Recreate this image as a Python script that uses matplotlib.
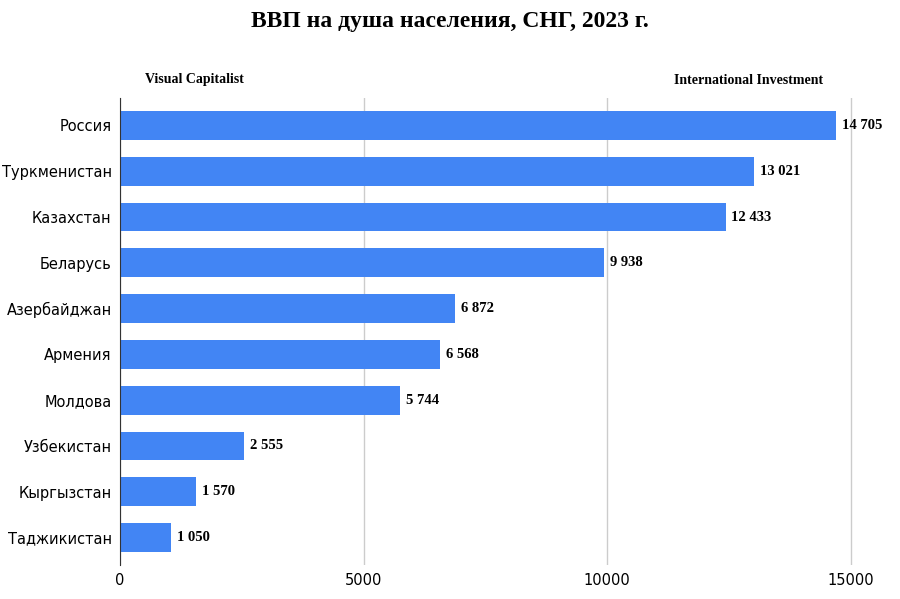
import matplotlib
matplotlib.use("Agg")
import matplotlib.pyplot as plt

countries = ["Россия", "Туркменистан", "Казахстан", "Беларусь", "Азербайджан",
             "Армения", "Молдова", "Узбекистан", "Кыргызстан", "Таджикистан"]
values = [14705, 13021, 12433, 9938, 6872, 6568, 5744, 2555, 1570, 1050]
labels = ["14 705", "13 021", "12 433", "9 938", "6 872", "6 568", "5 744", "2 555", "1 570", "1 050"]

fig = plt.figure(figsize=(9, 5.99), dpi=100)
ax = fig.add_axes([120/900, 1-565/599, 750/900, (565-98)/599])
y = list(range(len(countries)))
ax.barh(y, values, height=0.63, color="#4285F4", zorder=2)
ax.set_ylim(9.6, -0.6)
ax.set_xlim(0, 15400)
ax.set_xticks([0, 5000, 10000, 15000])
ax.set_xticklabels(["0", "5000", "10000", "15000"], fontsize=10.5)
ax.set_yticks(y)
ax.set_yticklabels(countries, fontsize=10.5)
ax.tick_params(length=0, pad=6)
ax.grid(axis="x", color="#cccccc", linewidth=1, zorder=0)
for s in ["top", "right", "bottom"]:
    ax.spines[s].set_visible(False)
ax.spines["left"].set_color("#333333")
for yi, v, l in zip(y, values, labels):
    ax.text(v + 120, yi, l, va="center", ha="left", fontsize=10.5,
            fontweight="bold", family="Liberation Serif")
fig.text(0.5, 1-22/599, "ВВП на душа населения, СНГ, 2023 г.", ha="center", va="center",
         fontsize=17, fontweight="bold", family="Liberation Serif")
fig.text(145/900, 1-80/599, "Visual Capitalist", ha="left", va="center",
         fontsize=10, fontweight="bold", family="Liberation Serif")
fig.text(823/900, 1-80/599, "International Investment", ha="right", va="center",
         fontsize=10, fontweight="bold", family="Liberation Serif")
fig.savefig("out.png", dpi=100)
